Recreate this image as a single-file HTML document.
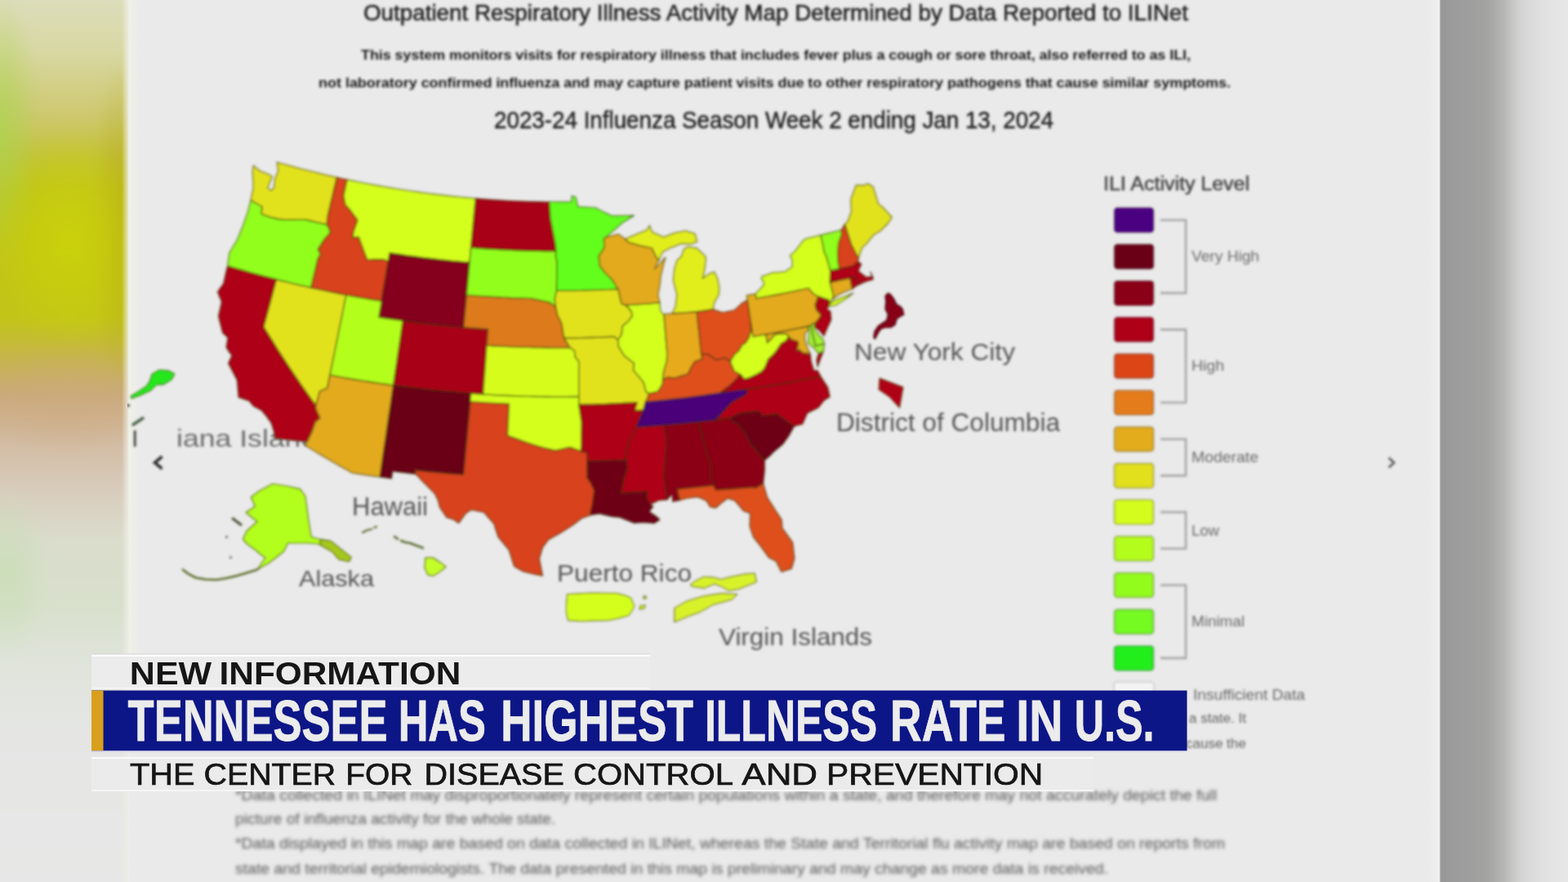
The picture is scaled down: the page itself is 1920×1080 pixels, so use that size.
<!DOCTYPE html>
<html>
<head>
<meta charset="utf-8">
<title>Tennessee has highest illness rate in U.S.</title>
<style>
html,body{margin:0;padding:0;}
body{width:1920px;height:1080px;overflow:hidden;position:relative;background:#e9e9e9;font-family:"Liberation Sans",sans-serif;}
#leftwrap{position:absolute;left:0;top:0;width:157px;height:1080px;overflow:hidden;background:#e6e6e6;}
#left{position:absolute;left:-30px;top:-30px;width:215px;height:1140px;
 background:
  radial-gradient(ellipse 95px 135px at 115px 325px, rgba(202,210,10,0.95), rgba(202,210,10,0) 100%),
  radial-gradient(ellipse 40px 200px at 180px 300px, rgba(180,165,20,0.55), rgba(180,165,20,0) 100%),
  radial-gradient(ellipse 50px 170px at 30px 190px, rgba(172,212,80,0.8), rgba(172,212,80,0) 100%),
  radial-gradient(ellipse 50px 110px at 40px 730px, rgba(200,222,180,0.8), rgba(200,222,180,0) 100%),
  radial-gradient(ellipse 110px 70px at 110px 520px, rgba(205,170,125,0.5), rgba(205,170,125,0) 100%),
  linear-gradient(to bottom, #dedfc6 0px, #d8d8a4 90px, #cec870 170px, #c4c23a 220px, #c0c21c 260px, #c2c414 330px, #c2c418 420px, #c6b44c 470px, #caa97c 515px, #d2bba2 570px, #d8ccbc 630px, #dadccc 690px, #d8e0cc 770px, #e0e4dc 850px, #e5e6e4 930px, #e7e7e7 1140px);
 filter:blur(5px);}
#right{position:absolute;left:1763px;top:-6px;width:167px;height:1092px;filter:blur(1.2px);
 background:linear-gradient(to right,#959595 0px,#9a9a9a 8px,#9e9d9d 30px,#a3a3a2 57px,#b4b4b2 77px,#c7c7c5 89px,#d3d3d3 99px,#dcdcdc 114px,#e3e3e3 134px,#e8e8e8 157px);}
#page{position:absolute;left:158px;top:0;width:1607px;height:1080px;background:#eaeaea;}
svg text{font-family:"Liberation Sans",sans-serif;}
</style>
</head>
<body>
<div id="leftwrap"><div id="left"></div></div>
<div id="page"></div>
<div style="position:absolute;left:149px;top:0;width:9px;height:1080px;background:linear-gradient(to right,rgba(234,234,234,0),rgba(238,238,230,0.95))"></div>
<div style="position:absolute;left:158px;top:0;width:12px;height:800px;background:linear-gradient(to right,rgba(242,242,232,0.9),rgba(234,234,234,0))"></div>
<div id="right"></div>
<div style="position:absolute;left:1748px;top:0;width:15px;height:1080px;background:linear-gradient(to right,rgba(240,240,240,0),rgba(241,240,241,0.9))"></div>
<svg id="main" width="1920" height="1080" viewBox="0 0 1920 1080" style="position:absolute;left:0;top:0">
<defs>
<filter id="b1" x="-5%" y="-5%" width="110%" height="110%"><feGaussianBlur stdDeviation="1.5"/></filter>
<filter id="b2" x="-5%" y="-50%" width="110%" height="200%"><feGaussianBlur stdDeviation="1.8"/></filter>
<clipPath id="pageclip"><rect x="156" y="0" width="1607" height="1080"/></clipPath>
</defs>
<g clip-path="url(#pageclip)">
<g filter="url(#b1)">
<text x="445" y="24.5" font-size="27" fill="#222" stroke="#222" stroke-width="0.6" textLength="1010" lengthAdjust="spacingAndGlyphs">Outpatient Respiratory Illness Activity Map Determined by Data Reported to ILINet</text>
<text x="442" y="72.5" font-size="16" font-weight="bold" fill="#141414" textLength="1016" lengthAdjust="spacingAndGlyphs">This system monitors visits for respiratory illness that includes fever plus a cough or sore throat, also referred to as ILI,</text>
<text x="390" y="106.5" font-size="16" font-weight="bold" fill="#141414" textLength="1117" lengthAdjust="spacingAndGlyphs">not laboratory confirmed influenza and may capture patient visits due to other respiratory pathogens that cause similar symptoms.</text>
<text x="605" y="156.5" font-size="29" fill="#1e1e1e" stroke="#1e1e1e" stroke-width="0.5" textLength="685" lengthAdjust="spacingAndGlyphs">2023-24 Influenza Season Week 2 ending Jan 13, 2024</text>
<!-- labels behind map -->
<text x="216" y="547" font-size="30" fill="#6a6a6a" textLength="190" lengthAdjust="spacingAndGlyphs">iana Islands</text>
<text x="161" y="547" font-size="30" fill="#404040">I</text>
<text x="431" y="631" font-size="31" fill="#555" textLength="93" lengthAdjust="spacingAndGlyphs">Hawaii</text>
<text x="366" y="718" font-size="28" fill="#555" textLength="92" lengthAdjust="spacingAndGlyphs">Alaska</text>
<text x="682" y="712" font-size="30" fill="#555" textLength="165" lengthAdjust="spacingAndGlyphs">Puerto Rico</text>
<text x="880" y="790" font-size="29" fill="#555" textLength="188" lengthAdjust="spacingAndGlyphs">Virgin Islands</text>
<text x="1046" y="441" font-size="30" fill="#555" textLength="197" lengthAdjust="spacingAndGlyphs">New York City</text>
<text x="1024" y="528" font-size="31" fill="#555" textLength="274" lengthAdjust="spacingAndGlyphs">District of Columbia</text>
<path d="M198.5,559 L189.5,566.5 L198.5,574" fill="none" stroke="#2e2e2e" stroke-width="3.6" stroke-linejoin="miter"/>
<path d="M1700.5,560.5 L1707,566.5 L1700.5,572.5" fill="none" stroke="#5a5a5a" stroke-width="2.6"/>
<!-- map -->
<g stroke="#2a2a00" stroke-opacity="0.6" stroke-width="1.6" stroke-linejoin="round">
<path d="M339.2,198.7L345.2,200.4L351.3,202.1L357.4,203.7L363.4,205.4L369.5,207.0L375.6,208.5L381.7,210.0L387.9,211.6L394.0,213.0L400.1,214.5L406.2,215.9L412.4,217.3L410.5,225.5L408.5,233.7L406.6,241.9L404.6,250.2L402.7,258.5L400.8,266.7L400.5,275.2L394.9,273.9L389.3,272.7L383.8,271.4L378.2,270.1L372.7,268.7L368.0,269.0L362.3,269.2L356.5,269.3L350.7,269.3L345.8,268.9L340.8,268.4L335.4,267.1L330.0,265.8L325.0,263.9L320.1,262.0L320.8,252.9L315.8,250.4L311.5,247.9L307.2,245.4L308.7,237.0L310.2,231.2L310.0,222.9L309.7,216.6L309.3,210.3L310.3,202.8L314.4,206.2L318.4,209.6L324.1,211.8L329.7,213.9L333.2,216.4L330.4,223.3L327.6,230.2L331.6,233.4L335.4,230.3L336.1,224.4L336.8,218.4L340.8,209.4L339.2,198.7Z" fill="#e2e21e"/>
<path d="M307.2,245.4L311.5,247.9L315.8,250.4L320.8,252.9L320.1,262.0L325.0,263.9L330.0,265.8L335.4,267.1L340.8,268.4L345.8,268.9L350.7,269.3L356.5,269.3L362.3,269.2L368.0,269.0L372.7,268.7L378.2,270.1L383.8,271.4L389.3,272.7L394.9,273.9L400.5,275.2L404.8,284.3L397.4,292.8L393.4,299.0L389.4,305.3L392.4,311.0L389.0,317.4L387.0,326.2L384.9,334.9L382.8,343.6L380.8,352.4L373.9,350.9L367.1,349.3L360.2,347.7L353.4,346.0L346.5,344.3L339.7,342.6L332.9,340.9L326.1,339.1L319.3,337.3L312.5,335.4L305.8,333.6L299.0,331.6L292.2,329.7L285.5,327.7L278.8,325.7L279.8,317.7L280.9,309.6L285.7,301.7L290.5,293.8L293.9,285.4L297.3,277.1L300.3,268.6L303.3,260.2L305.2,252.8L307.2,245.4Z" fill="#92fe1e"/>
<path d="M412.4,217.3L418.8,218.7L425.2,220.0L423.7,226.5L422.3,233.1L420.8,239.6L421.9,245.1L422.9,250.7L427.7,255.7L432.8,262.6L438.0,269.4L435.8,275.7L433.6,282.1L431.6,290.6L435.5,290.4L439.4,290.2L441.7,296.6L444.1,303.0L446.9,310.5L449.8,318.0L456.4,317.5L462.9,317.6L469.3,317.6L475.4,320.0L473.8,329.8L472.1,339.5L470.5,349.2L468.8,359.0L467.2,368.8L459.9,367.6L452.7,366.4L445.5,365.2L438.3,363.9L431.1,362.6L423.8,361.3L416.7,359.9L409.5,358.5L402.3,357.0L395.1,355.5L387.9,354.0L380.8,352.4L382.8,343.6L384.9,334.9L387.0,326.2L389.0,317.4L392.4,311.0L389.4,305.3L393.4,299.0L397.4,292.8L404.8,284.3L400.5,275.2L400.8,266.7L402.7,258.5L404.6,250.2L406.6,241.9L408.5,233.7L410.5,225.5Z" fill="#d8421a"/>
<path d="M425.2,220.0L431.7,221.4L438.2,222.7L444.6,224.0L451.1,225.2L457.7,226.4L464.2,227.6L470.7,228.8L477.2,229.9L483.7,231.0L490.3,232.0L496.8,233.0L503.4,234.0L509.9,234.9L516.5,235.9L523.1,236.7L529.6,237.6L536.2,238.4L542.8,239.1L549.4,239.9L556.0,240.6L562.6,241.2L569.1,241.9L575.7,242.5L582.3,243.0L581.4,252.8L580.5,262.6L579.6,272.4L578.7,282.2L577.8,292.0L576.8,301.8L575.9,311.7L575.0,321.6L568.0,321.0L561.0,320.3L554.0,319.7L546.9,318.9L539.9,318.2L532.9,317.4L526.0,316.6L519.0,315.7L512.0,314.8L505.0,313.9L498.0,313.0L491.1,311.9L484.1,310.9L477.1,309.8L476.3,314.9L475.4,320.0L469.3,317.6L462.9,317.6L456.4,317.5L449.8,318.0L446.9,310.5L444.1,303.0L441.7,296.6L439.4,290.2L435.5,290.4L431.6,290.6L433.6,282.1L435.8,275.7L438.0,269.4L432.8,262.6L427.7,255.7L422.9,250.7L421.9,245.1L420.8,239.6L422.3,233.1L423.7,226.5Z" fill="#d4fe1e"/>
<path d="M477.1,309.8L484.1,310.9L491.1,311.9L498.0,313.0L505.0,313.9L512.0,314.8L519.0,315.7L526.0,316.6L532.9,317.4L539.9,318.2L546.9,318.9L554.0,319.7L561.0,320.3L568.0,321.0L575.0,321.6L574.1,331.4L573.2,341.3L572.2,351.2L571.3,361.2L570.4,371.1L569.4,381.0L568.5,390.9L567.6,400.9L560.1,400.3L552.7,399.6L545.3,398.9L537.8,398.1L530.4,397.3L523.0,396.5L515.6,395.6L508.2,394.7L500.8,393.8L493.4,392.8L486.0,391.8L478.6,390.7L471.2,389.6L463.8,388.5L465.5,378.6L467.2,368.8L468.8,358.9L470.5,349.1L472.2,339.3L473.8,329.4L475.5,319.6Z" fill="#84001a"/>
<path d="M423.7,361.2L430.9,362.6L438.2,363.9L445.4,365.2L452.7,366.4L459.9,367.6L467.2,368.8L465.5,378.6L463.8,388.5L471.2,389.6L478.6,390.7L486.0,391.8L493.4,392.8L491.9,402.7L490.5,412.6L489.0,422.5L487.5,432.4L486.1,442.3L484.6,452.2L483.2,462.1L481.7,472.0L473.9,470.9L466.1,469.8L458.3,468.6L450.5,467.4L442.7,466.2L434.9,464.9L427.2,463.6L419.4,462.2L411.7,460.8L403.9,459.3L405.9,449.5L407.9,439.7L409.8,429.9L411.8,420.1L413.8,410.3L415.8,400.4L417.8,390.6L419.7,380.8L421.7,371.0Z" fill="#b4fe1e"/>
<path d="M493.4,392.8L500.8,393.8L508.2,394.7L515.6,395.6L523.0,396.5L530.4,397.3L537.8,398.1L545.3,398.9L552.7,399.6L560.1,400.3L567.6,400.9L575.0,401.5L582.5,402.0L589.9,402.6L597.4,403.0L596.7,413.0L595.9,423.0L595.2,432.9L594.5,442.9L593.8,452.9L593.0,462.9L592.3,472.8L591.6,482.8L583.7,482.3L575.9,481.8L568.0,481.2L560.1,480.5L552.3,479.9L544.4,479.2L536.6,478.4L528.7,477.6L520.9,476.8L513.0,475.9L505.2,475.0L497.4,474.0L489.5,473.0L481.7,472.0L483.2,462.1L484.6,452.2L486.1,442.3L487.5,432.4L489.0,422.5L490.5,412.6L491.9,402.7Z" fill="#a80016"/>
<path d="M338.3,342.3L345.4,344.1L352.5,345.8L359.6,347.5L366.6,349.2L373.7,350.8L380.9,352.4L388.0,354.0L395.1,355.5L402.2,357.0L409.4,358.4L416.5,359.9L423.7,361.2L421.8,370.7L419.9,380.2L418.0,389.7L416.0,399.2L414.1,408.7L412.2,418.2L410.3,427.7L408.4,437.2L406.4,446.7L404.5,456.2L402.6,465.7L400.7,475.2L396.0,477.3L391.4,479.4L389.1,488.1L386.8,496.8L380.5,488.2L374.4,479.5L368.3,470.8L362.3,462.0L356.4,453.3L350.6,444.5L344.9,435.7L339.2,426.9L333.7,418.0L328.2,409.2L322.8,400.3L325.4,390.6L328.0,380.9L330.6,371.3L333.2,361.6L335.7,351.9Z" fill="#e2e21e"/>
<path d="M278.8,325.7L285.3,327.7L291.9,329.6L298.5,331.5L305.1,333.4L311.8,335.2L318.4,337.0L325.0,338.8L331.7,340.6L338.3,342.3L335.7,351.9L333.2,361.6L330.6,371.3L328.0,380.9L325.4,390.6L322.8,400.3L328.2,409.2L333.7,418.0L339.2,426.9L344.9,435.7L350.6,444.5L356.4,453.3L362.3,462.0L368.3,470.8L374.4,479.5L380.5,488.2L386.8,496.8L386.9,500.9L391.9,512.1L385.9,517.0L384.0,522.7L382.0,528.5L379.0,534.8L376.0,541.1L368.0,540.3L360.0,539.4L352.0,538.5L344.0,537.6L336.0,536.6L335.6,528.9L332.2,518.0L325.9,509.3L320.7,502.9L315.5,500.1L310.3,497.3L305.2,490.9L298.6,488.7L292.1,486.5L291.3,477.0L290.8,471.2L290.3,465.4L284.9,455.1L279.6,444.8L283.9,435.6L280.4,430.5L277.0,425.4L278.0,419.4L278.9,413.4L272.6,407.4L270.0,397.3L267.5,387.1L269.5,378.3L271.4,369.5L268.9,363.5L266.5,357.5L270.1,352.3L273.7,347.2L275.4,339.3L277.1,331.4Z" fill="#ae0016"/>
<path d="M403.9,459.3L411.7,460.8L419.4,462.2L427.2,463.6L434.9,464.9L442.7,466.2L450.5,467.4L458.3,468.6L466.1,469.8L473.9,470.9L481.7,472.0L480.3,481.3L479.0,490.7L477.6,500.0L476.2,509.4L474.8,518.7L473.4,528.1L472.1,537.4L470.7,546.7L469.3,556.1L468.0,565.4L466.6,574.7L465.2,584.0L458.4,583.1L451.6,582.1L444.8,581.1L438.1,580.1L431.3,579.0L423.9,574.9L416.6,570.8L409.3,566.6L402.1,562.4L394.9,558.2L387.7,553.9L380.5,549.6L373.4,545.3L376.0,541.1L379.0,534.8L382.0,528.5L384.0,522.7L385.9,517.0L391.9,512.1L386.9,500.9L386.8,496.8L389.1,488.1L391.4,479.4L396.0,477.3L400.7,475.2L402.3,467.3Z" fill="#e2aa1e"/>
<path d="M481.7,472.0L489.0,472.9L496.3,473.9L503.6,474.8L510.8,475.6L518.1,476.5L525.4,477.3L532.7,478.0L540.1,478.7L547.4,479.4L554.7,480.1L562.0,480.7L569.3,481.3L576.6,481.8L575.8,491.8L574.9,501.7L574.0,511.7L573.0,521.6L572.1,531.6L571.2,541.5L570.2,551.5L569.3,561.4L568.4,571.3L567.4,581.2L560.0,580.7L552.5,580.1L545.0,579.5L537.6,578.8L530.1,578.1L522.7,577.4L515.2,576.6L507.8,575.8L509.2,580.4L502.1,579.6L495.0,578.8L487.9,577.9L480.7,577.0L479.5,585.9L472.4,585.0L465.2,584.0L466.6,574.7L468.0,565.4L469.3,556.1L470.7,546.7L472.1,537.4L473.4,528.1L474.8,518.7L476.2,509.4L477.6,500.0L479.0,490.7L480.3,481.3Z" fill="#6a0016"/>
<path d="M575.8,491.8L583.8,492.3L591.7,492.8L599.6,493.3L607.5,493.7L615.5,494.1L623.4,494.5L622.9,504.1L622.4,513.8L622.0,523.5L621.5,533.2L627.9,535.5L634.3,537.8L640.0,540.0L645.6,542.1L652.7,544.3L659.7,546.4L666.8,548.5L673.4,550.1L680.0,551.6L686.0,550.3L692.1,548.9L698.1,547.6L704.9,550.1L711.6,552.6L718.9,554.2L719.0,559.5L719.1,564.8L719.1,571.6L719.2,578.4L719.3,585.3L723.5,590.9L727.9,600.8L726.7,608.7L725.6,616.7L723.3,626.7L723.4,630.6L717.7,632.7L712.0,634.8L706.8,638.9L701.5,642.9L693.7,647.9L685.8,652.9L678.7,656.8L671.6,660.7L664.3,670.5L662.4,677.4L660.4,684.3L661.8,691.2L663.1,698.1L664.5,704.9L658.6,703.9L652.8,702.8L646.5,701.2L640.2,699.6L634.9,696.5L629.6,693.4L626.4,683.5L623.3,673.5L616.6,665.4L609.9,657.2L607.3,649.2L604.7,641.1L598.5,634.2L592.5,627.2L584.8,625.7L577.1,624.1L569.7,629.2L565.8,634.9L561.8,640.5L555.2,636.1L546.7,633.4L542.5,627.1L538.3,620.8L536.5,612.6L532.2,604.3L524.5,596.5L516.8,588.8L509.2,580.4L507.8,575.8L515.2,576.6L522.7,577.4L530.1,578.1L537.6,578.8L545.0,579.5L552.5,580.1L560.0,580.7L567.4,581.2L568.4,571.3L569.3,561.4L570.2,551.5L571.2,541.5L572.1,531.6L573.0,521.6L574.0,511.7L574.9,501.7Z" fill="#d8421a"/>
<path d="M576.6,481.8L584.4,482.4L592.2,482.9L599.9,483.3L607.7,483.7L615.5,484.1L623.3,484.4L631.0,484.7L638.8,485.0L646.6,485.2L654.4,485.4L662.2,485.5L669.9,485.6L677.7,485.7L685.5,485.7L693.3,485.7L701.1,485.6L708.9,485.5L708.9,495.5L710.0,502.9L711.1,510.3L712.2,517.6L712.0,526.4L711.9,535.1L711.8,543.8L711.6,552.6L704.9,550.1L698.1,547.6L692.1,548.9L686.0,550.3L680.0,551.6L673.4,550.1L666.8,548.5L659.7,546.4L652.7,544.3L645.6,542.1L640.0,540.0L634.3,537.8L627.9,535.5L621.5,533.2L622.0,523.5L622.4,513.8L622.9,504.1L623.4,494.5L615.5,494.1L607.5,493.7L599.6,493.3L591.7,492.8L583.8,492.3L575.8,491.8Z" fill="#d4fe1e"/>
<path d="M595.9,423.0L603.2,423.4L610.5,423.8L617.8,424.2L625.1,424.5L632.4,424.8L639.6,425.0L646.9,425.2L654.2,425.4L661.5,425.5L668.8,425.6L676.1,425.7L683.4,425.7L690.7,425.7L698.0,425.7L703.5,429.6L704.6,437.6L708.9,442.5L708.9,451.1L708.9,459.7L708.9,468.3L708.9,476.9L708.9,485.5L701.1,485.6L693.2,485.7L685.4,485.7L677.6,485.7L669.8,485.6L661.9,485.5L654.1,485.4L646.3,485.2L638.5,485.0L630.7,484.7L622.8,484.4L615.0,484.1L607.2,483.7L599.4,483.3L591.6,482.8L592.3,472.8L593.0,462.9L593.8,452.9L594.5,442.9L595.2,432.9Z" fill="#d6fc1e"/>
<path d="M571.3,361.2L578.0,361.7L584.7,362.2L591.4,362.7L598.1,363.1L604.8,363.5L611.5,363.9L618.2,364.2L624.9,364.6L631.6,364.8L638.3,365.1L645.0,365.3L651.7,365.5L658.9,367.2L666.2,368.8L673.4,370.4L680.6,375.9L682.7,385.8L687.8,395.8L688.9,402.8L689.9,409.8L691.1,414.1L694.5,419.9L698.0,425.7L690.7,425.7L683.4,425.7L676.1,425.7L668.8,425.6L661.5,425.5L654.2,425.4L646.9,425.2L639.6,425.0L632.4,424.8L625.1,424.5L617.8,424.2L610.5,423.8L603.2,423.4L595.9,423.0L596.7,413.0L597.4,403.0L589.9,402.6L582.5,402.0L575.0,401.5L567.6,400.9L568.5,390.9L569.4,381.0L570.4,371.1Z" fill="#dc7a1c"/>
<path d="M576.7,303.0L583.7,303.6L590.6,304.1L597.5,304.6L604.4,305.0L611.3,305.4L618.3,305.8L625.2,306.1L632.1,306.4L639.1,306.7L646.0,306.9L652.9,307.1L659.9,307.3L666.8,307.4L673.8,307.5L680.7,307.5L680.6,314.3L682.1,320.2L682.0,329.1L681.8,338.1L681.7,347.0L681.6,355.9L679.3,365.9L680.6,375.9L673.4,370.4L666.2,368.8L658.9,367.2L651.7,365.5L645.0,365.3L638.3,365.1L631.6,364.8L624.9,364.6L618.2,364.2L611.5,363.9L604.8,363.5L598.1,363.1L591.4,362.7L584.7,362.2L578.0,361.7L571.3,361.2L572.2,351.4L573.1,341.7L574.0,332.0L574.9,322.4L575.8,312.7Z" fill="#92fe1e"/>
<path d="M582.3,243.0L588.8,243.6L595.2,244.0L601.7,244.5L608.1,244.9L614.6,245.3L621.0,245.7L627.5,246.0L633.9,246.3L640.4,246.5L646.8,246.7L653.3,246.9L659.7,247.1L666.2,247.2L672.7,247.3L673.3,257.1L674.0,266.9L675.8,276.7L677.7,286.6L679.0,293.5L680.3,300.4L680.7,307.5L673.8,307.5L666.8,307.4L659.9,307.3L652.9,307.1L646.0,306.9L639.1,306.7L632.1,306.4L625.2,306.1L618.3,305.8L611.3,305.4L604.4,305.0L597.5,304.6L590.6,304.1L583.7,303.6L576.7,303.0L577.5,294.4L578.3,285.8L579.1,277.2L580.0,268.7L580.8,260.1L581.6,251.6Z" fill="#a80016"/>
<path d="M672.7,247.3L678.2,247.3L683.7,247.4L689.2,247.4L694.7,247.4L700.2,247.3L700.2,239.9L704.9,241.4L706.2,247.2L707.6,253.1L712.9,253.5L718.3,253.8L723.6,254.2L729.0,254.5L735.7,257.9L742.5,261.2L749.4,264.5L756.1,264.4L762.9,264.3L769.6,264.1L776.3,263.9L771.6,266.8L766.8,269.8L761.9,272.7L755.4,278.6L748.8,284.5L742.2,290.4L739.5,292.3L739.7,297.8L740.0,303.3L736.6,308.4L733.2,313.5L733.7,319.4L734.2,325.3L740.8,334.0L745.2,338.3L749.6,342.6L753.3,348.4L757.0,354.1L750.2,354.5L743.3,354.8L736.5,355.0L729.6,355.3L722.8,355.5L715.9,355.6L709.0,355.8L702.2,355.9L695.3,355.9L688.5,356.0L681.6,355.9L681.7,347.0L681.8,338.1L682.0,329.1L682.1,320.2L680.6,314.3L680.7,307.5L680.3,300.4L679.0,293.5L677.7,286.6L675.8,276.7L674.0,266.9L673.3,257.1Z" fill="#64fe1e"/>
<path d="M681.6,355.9L688.5,356.0L695.3,355.9L702.2,355.9L709.0,355.8L715.9,355.6L722.8,355.5L729.6,355.3L736.5,355.0L743.3,354.8L750.2,354.5L757.0,354.1L759.2,364.0L761.0,371.9L766.2,373.6L773.2,381.1L774.3,387.1L769.4,393.3L762.2,399.7L761.2,409.8L756.7,416.4L751.8,412.2L745.1,412.6L738.3,412.9L731.6,413.2L724.8,413.4L718.1,413.6L711.4,413.8L704.6,413.9L697.9,414.1L691.1,414.1L689.9,409.8L688.9,402.8L687.8,395.8L682.7,385.8L680.6,375.9L679.3,365.9Z" fill="#e2e21e"/>
<path d="M691.1,414.1L697.9,414.1L704.6,413.9L711.4,413.8L718.1,413.6L724.8,413.4L731.6,413.2L738.3,412.9L745.1,412.6L751.8,412.2L756.7,416.4L757.3,424.0L760.9,429.8L764.6,435.6L770.6,440.3L776.6,444.9L775.5,453.0L781.8,460.6L788.1,468.2L789.6,474.1L791.1,480.0L794.7,481.7L791.8,489.9L790.3,492.1L787.7,502.2L782.4,502.6L777.0,502.9L780.0,492.7L772.1,493.2L764.2,493.6L756.3,494.0L748.4,494.4L740.5,494.7L732.6,494.9L724.7,495.2L716.8,495.4L708.9,495.5L708.9,485.5L708.9,476.9L708.9,468.3L708.9,459.7L708.9,451.1L708.9,442.5L704.6,437.6L703.5,429.6L698.0,425.7L694.5,419.9Z" fill="#e2e21e"/>
<path d="M708.9,495.5L716.8,495.4L724.7,495.2L732.6,494.9L740.5,494.7L748.4,494.4L756.3,494.0L764.2,493.6L772.1,493.2L780.0,492.7L777.0,502.9L782.4,502.6L787.7,502.2L785.3,508.4L782.8,514.6L779.2,522.8L774.8,533.0L771.8,538.7L768.8,544.4L767.5,553.4L766.8,563.4L758.9,563.7L750.9,564.0L742.9,564.3L735.0,564.5L727.0,564.6L719.1,564.8L719.0,559.5L718.9,554.2L711.6,552.6L711.8,543.8L711.9,535.1L712.0,526.4L712.2,517.6L711.1,510.3L710.0,502.9Z" fill="#ae0016"/>
<path d="M719.1,564.8L727.0,564.6L735.0,564.5L742.9,564.3L750.9,564.0L758.9,563.7L766.8,563.4L768.4,573.3L766.2,579.4L763.9,585.5L762.5,592.5L761.0,599.5L760.5,603.5L768.7,603.1L776.8,602.7L784.9,602.2L793.1,601.7L791.7,609.7L796.3,617.8L799.9,620.1L795.0,626.4L804.1,632.7L807.9,636.4L801.2,640.8L795.0,640.3L788.8,639.7L782.7,640.0L776.6,640.4L767.7,636.9L758.9,633.4L750.2,632.7L742.3,630.9L734.4,628.9L728.9,629.8L723.4,630.6L723.3,626.7L725.6,616.7L726.7,608.7L727.9,600.8L723.5,590.9L719.3,585.3L719.2,578.4L719.1,571.6Z" fill="#6e0016"/>
<path d="M779.2,522.8L786.0,522.4L792.8,521.9L799.6,521.4L806.4,520.9L813.2,520.3L814.7,530.2L816.3,540.1L815.7,548.5L815.1,557.0L814.5,565.4L813.9,573.9L813.2,582.3L814.4,592.2L815.5,602.0L816.6,611.9L811.4,612.3L806.3,612.7L801.3,615.2L796.3,617.8L791.7,609.7L793.1,601.7L784.9,602.2L776.8,602.7L768.7,603.1L760.5,603.5L761.0,599.5L762.5,592.5L763.9,585.5L766.2,579.4L768.4,573.3L766.8,563.4L767.5,553.4L768.8,544.4L771.8,538.7L774.8,533.0Z" fill="#ae0016"/>
<path d="M813.2,520.3L820.2,519.7L827.2,519.1L834.2,518.5L841.2,517.8L848.2,517.0L855.2,516.3L857.4,524.7L859.7,533.0L861.9,541.4L864.2,549.8L866.5,558.1L868.6,563.4L870.7,568.6L870.7,576.6L870.7,584.6L873.5,594.3L866.2,595.2L858.8,596.0L851.4,596.7L844.1,597.5L836.7,598.2L829.3,598.9L830.8,605.7L832.2,612.5L823.7,614.3L823.0,605.4L816.6,611.9L815.5,602.0L814.4,592.2L813.2,582.3L813.9,573.9L814.5,565.4L815.1,557.0L815.7,548.5L816.3,540.1L814.7,530.2Z" fill="#8c0016"/>
<path d="M855.2,516.3L863.2,515.4L871.3,514.4L879.4,513.4L887.4,512.4L895.5,511.3L896.0,515.3L904.8,520.1L908.9,525.5L913.0,531.0L916.4,537.5L919.8,544.1L927.8,552.9L932.0,558.3L936.2,563.7L936.3,569.7L936.3,575.7L935.4,583.9L934.5,592.1L929.7,594.8L924.9,597.5L922.1,596.5L914.5,597.2L906.9,597.8L899.3,598.4L891.7,599.0L884.1,599.5L876.5,599.9L873.5,594.3L870.7,584.6L870.7,576.6L870.7,568.6L868.6,563.4L866.5,558.1L864.2,549.8L861.9,541.4L859.7,533.0L857.4,524.7Z" fill="#8c0016"/>
<path d="M829.3,598.9L836.7,598.2L844.1,597.5L851.4,596.7L858.8,596.0L866.2,595.2L873.5,594.3L876.5,599.9L884.1,599.5L891.7,599.0L899.3,598.4L906.9,597.8L914.5,597.2L922.1,596.5L924.9,597.5L929.7,594.8L934.5,592.1L937.1,600.7L939.6,609.3L944.3,616.6L948.9,623.9L953.0,630.2L957.1,636.5L957.8,646.4L964.1,655.3L970.6,664.2L971.7,674.0L972.8,683.7L971.1,689.9L969.3,696.2L963.1,698.2L956.9,700.2L953.6,693.8L950.4,687.3L941.5,682.7L936.9,676.5L932.4,670.2L927.5,664.0L922.6,657.7L920.3,651.1L918.1,644.4L918.4,636.4L918.6,628.4L910.3,625.6L905.1,619.3L899.9,613.0L890.9,610.2L884.5,615.0L876.5,621.9L869.4,620.7L865.1,613.2L859.7,610.8L854.3,608.4L847.4,609.3L840.6,610.2L832.2,612.5L830.8,605.7Z" fill="#de501a"/>
<path d="M895.5,511.3L900.0,508.7L907.8,505.6L914.5,504.9L921.2,504.2L927.9,503.5L930.5,504.1L932.9,509.4L939.0,508.5L945.1,507.6L951.2,506.7L958.2,511.8L965.3,516.9L972.4,521.9L968.9,528.3L965.4,534.6L958.5,543.9L952.6,548.9L946.6,553.9L942.3,558.7L936.2,563.7L932.0,558.3L927.8,552.9L919.8,544.1L916.4,537.5L913.0,531.0L908.9,525.5L904.8,520.1L896.0,515.3Z" fill="#6e0016"/>
<path d="M875.8,513.9L880.5,509.3L887.6,501.1L891.9,496.6L896.2,492.1L903.7,488.0L909.0,485.2L914.2,482.4L913.7,476.6L921.3,475.5L929.0,474.4L936.6,473.2L944.2,472.0L951.8,470.7L959.3,469.4L966.9,468.1L974.5,466.7L982.1,465.3L989.7,463.8L997.2,462.3L1004.8,460.8L1009.2,467.5L1013.6,474.2L1014.9,480.0L1016.1,485.9L1008.8,490.5L1002.3,499.0L995.5,502.5L988.6,505.9L985.7,512.5L982.8,519.2L977.6,520.6L972.4,521.9L965.3,516.9L958.2,511.8L951.2,506.7L945.1,507.6L939.0,508.5L932.9,509.4L930.5,504.1L927.9,503.5L921.2,504.2L914.5,504.9L907.8,505.6L900.0,508.7L895.5,511.3L888.9,512.2L882.4,513.1Z" fill="#ae0016"/>
<path d="M790.3,492.1L798.0,491.3L805.7,490.6L813.3,489.8L821.0,488.9L828.7,488.1L836.4,487.2L844.0,486.2L851.7,485.2L859.3,484.2L866.9,483.1L874.6,482.0L882.2,480.9L890.1,479.9L898.0,478.8L905.8,477.8L913.7,476.6L914.2,482.4L909.0,485.2L903.7,488.0L896.2,492.1L891.9,496.6L887.6,501.1L880.5,509.3L875.8,513.9L868.9,514.7L862.1,515.5L855.2,516.3L848.2,517.0L841.2,517.8L834.2,518.5L827.2,519.1L820.2,519.7L813.2,520.3L806.4,520.9L799.6,521.4L792.8,521.9L786.0,522.4L779.2,522.8L782.8,514.6L785.3,508.4L787.7,502.2Z" fill="#4a0078"/>
<path d="M794.7,481.7L800.1,480.6L805.4,479.5L811.0,470.4L811.6,464.4L818.2,461.8L826.1,463.1L833.7,460.3L838.3,458.9L842.8,457.4L845.3,451.1L850.7,442.5L855.2,441.1L859.7,439.8L858.7,433.5L862.7,433.5L866.8,433.5L871.8,437.1L876.9,440.7L882.2,439.3L887.5,437.9L894.3,442.5L896.7,448.5L899.1,454.4L906.5,458.5L902.0,464.0L895.0,471.1L888.6,476.0L882.2,480.9L874.6,482.0L866.9,483.1L859.3,484.2L851.7,485.2L844.0,486.2L836.4,487.2L828.7,488.1L821.0,488.9L813.3,489.8L805.7,490.6L798.0,491.3L790.3,492.1L791.8,489.9Z" fill="#de501a"/>
<path d="M766.2,373.6L773.1,373.2L780.1,372.7L787.0,372.2L793.9,371.7L800.9,371.2L807.8,370.6L808.6,380.5L813.2,386.1L813.0,386.1L813.8,395.4L814.6,404.8L815.3,414.1L816.1,423.5L816.9,432.8L816.5,441.9L814.7,448.1L812.9,454.2L811.6,464.4L811.0,470.4L805.4,479.5L800.1,480.6L794.7,481.7L791.1,480.0L789.6,474.1L788.1,468.2L781.8,460.6L775.5,453.0L776.6,444.9L770.6,440.3L764.6,435.6L760.9,429.8L757.3,424.0L756.7,416.4L761.2,409.8L762.2,399.7L769.4,393.3L774.3,387.1L773.2,381.1Z" fill="#d4fe1e"/>
<path d="M766.2,373.6L761.0,371.9L759.2,364.0L757.0,354.1L753.3,348.4L749.6,342.6L745.2,338.3L740.8,334.0L734.2,325.3L733.7,319.4L733.2,313.5L736.6,308.4L740.0,303.3L739.7,297.8L739.5,292.3L742.2,290.4L747.2,289.2L752.2,288.0L757.1,286.7L761.4,289.7L765.7,292.8L770.1,296.8L777.1,298.8L784.2,300.8L791.2,302.3L798.3,303.7L800.8,308.9L803.3,314.2L806.5,318.8L801.7,329.2L808.3,322.7L814.7,315.1L812.9,322.2L811.2,329.4L809.4,336.5L808.5,343.6L807.7,350.6L805.6,360.8L807.8,370.6L800.9,371.2L793.9,371.7L787.0,372.2L780.1,372.7L773.1,373.2Z" fill="#e2aa1e"/>
<path d="M823.4,383.9L829.4,383.6L835.4,383.2L841.3,382.8L847.3,382.4L853.3,381.9L859.9,380.9L866.4,379.9L873.0,378.8L874.3,371.2L880.3,360.4L880.7,352.3L879.5,346.4L878.4,340.5L874.5,333.1L870.7,334.6L866.9,336.1L860.3,341.0L861.7,334.8L863.1,328.6L863.7,321.5L864.2,314.5L858.6,309.2L853.0,303.9L848.0,303.0L843.0,302.2L837.6,304.8L834.4,314.1L829.2,318.6L825.9,328.9L825.1,336.0L824.4,343.1L826.6,351.8L828.9,360.6L828.1,367.7L827.3,374.7Z" fill="#e2ee1e"/>
<path d="M765.7,292.8L770.1,296.8L777.1,298.8L784.2,300.8L791.2,302.3L798.3,303.7L800.8,308.9L803.3,314.2L806.5,318.8L811.3,308.5L816.0,306.0L820.7,303.6L827.4,300.9L834.1,298.2L839.8,298.6L845.4,298.9L849.4,297.4L853.5,295.9L850.9,286.3L845.2,284.5L839.4,282.7L832.7,284.0L825.9,285.2L819.2,287.9L812.5,290.5L805.3,287.2L798.2,283.9L795.5,276.2L792.5,281.4L787.6,283.4L782.7,285.4L777.8,287.4L771.8,290.1Z" fill="#e2ee1e"/>
<path d="M812.9,384.9L818.2,384.4L823.4,383.9L829.4,383.6L835.4,383.2L841.3,382.8L847.3,382.4L853.3,381.9L854.2,390.5L855.1,399.1L856.0,407.7L856.9,416.3L857.8,424.9L858.7,433.5L859.7,439.8L855.2,441.1L850.7,442.5L845.3,451.1L842.8,457.4L838.3,458.9L833.7,460.3L826.1,463.1L818.2,461.8L811.6,464.4L812.9,454.2L814.7,448.1L816.5,441.9L816.9,432.8L816.1,423.2L815.3,413.7L814.5,404.1L813.7,394.5Z" fill="#e6aa1e"/>
<path d="M853.3,381.9L859.9,380.9L866.4,379.9L873.0,378.8L878.9,380.8L884.8,382.8L892.1,381.3L899.3,379.7L904.0,375.5L908.6,371.2L915.2,367.5L916.6,376.3L917.9,385.1L919.3,393.9L919.6,399.3L919.8,404.7L917.3,413.2L912.9,420.0L908.7,422.7L905.0,429.3L899.4,434.1L894.3,442.5L887.5,437.9L882.2,439.3L876.9,440.7L871.8,437.1L866.8,433.5L862.7,433.5L858.7,433.5L857.8,424.9L856.9,416.3L856.0,407.7L855.1,399.1L854.2,390.5Z" fill="#de501a"/>
<path d="M919.3,393.9L920.8,403.0L922.2,412.0L927.4,411.2L932.6,410.3L937.8,409.4L938.7,414.5L939.6,419.6L945.9,413.4L948.4,409.9L955.9,408.5L963.8,409.1L965.7,412.4L962.3,417.5L956.6,420.6L950.4,429.9L946.5,434.6L941.0,439.6L936.5,450.5L932.5,455.2L928.5,457.4L924.4,459.6L917.7,462.7L911.7,464.6L906.5,458.5L899.1,454.4L896.7,448.5L894.3,442.5L899.4,434.1L905.0,429.3L908.7,422.7L912.9,420.0L917.3,413.2L919.8,404.7L919.6,399.3Z" fill="#d4fe1e"/>
<path d="M882.2,480.9L890.1,479.9L898.0,478.8L905.8,477.8L913.7,476.6L921.3,475.5L929.0,474.4L936.6,473.2L944.2,472.0L951.8,470.7L959.3,469.4L966.9,468.1L974.5,466.7L982.1,465.3L989.7,463.8L997.2,462.3L1004.8,460.8L1001.2,453.8L996.3,453.4L994.7,447.6L993.1,441.9L992.3,433.9L987.3,432.9L982.3,431.8L979.3,428.4L975.5,429.1L977.7,420.6L976.4,417.8L969.8,416.0L965.7,412.4L962.3,417.5L956.6,420.6L950.4,429.9L946.5,434.6L941.0,439.6L936.5,450.5L932.5,455.2L928.5,457.4L924.4,459.6L917.7,462.7L911.7,464.6L906.5,458.5L902.0,464.0L895.0,471.1L888.6,476.0Z" fill="#ae0016"/>
<path d="M1002.4,432.7L1008.3,429.8L1004.6,439.4L1001.1,449.3L1000.0,440.4Z" fill="#ae0016"/>
<path d="M937.8,409.4L945.2,408.1L952.5,406.7L959.9,405.4L967.2,403.9L974.5,402.5L981.8,401.0L989.1,399.5L990.6,402.6L985.6,408.8L985.7,416.9L987.6,422.6L989.6,428.3L992.1,432.9L987.2,432.4L982.3,431.8L979.3,428.4L975.5,429.1L977.7,420.6L976.4,417.8L969.8,416.0L965.7,412.4L963.8,409.1L955.9,408.5L948.4,409.9L945.9,413.4L939.6,419.6L938.7,414.5Z" fill="#e2aa1e"/>
<path d="M993.0,398.6L994.8,406.9L996.6,415.1L998.4,423.4L1003.9,422.2L1009.4,421.0L1008.3,429.8L1002.4,432.7L997.2,426.7L989.5,420.2L990.5,409.8L990.6,402.6L989.1,399.5Z" fill="#a2f032"/>
<path d="M993.0,398.6L995.4,395.9L998.2,395.9L997.1,400.2L997.9,404.1L1003.3,411.1L1007.4,414.7L1009.4,421.0L1003.9,422.2L998.4,423.4L996.6,415.1L994.8,406.9Z" fill="#a2f032"/>
<path d="M914.3,361.8L919.8,360.9L925.3,360.0L926.2,365.3L933.3,364.0L940.4,362.8L947.5,361.4L954.6,360.1L961.7,358.7L968.8,357.3L975.9,355.8L983.0,354.3L990.0,352.8L996.0,359.6L1002.1,363.1L998.3,373.4L999.6,379.2L1005.7,386.0L1002.1,390.9L998.2,395.9L995.4,395.9L993.0,398.6L986.1,400.1L979.3,401.5L972.4,402.9L965.5,404.3L958.6,405.6L951.7,406.9L944.7,408.2L937.8,409.4L932.6,410.3L927.4,411.2L922.2,412.0L920.8,403.0L919.3,393.9L917.9,385.1L916.6,376.3L915.2,367.5Z" fill="#e2aa1e"/>
<path d="M926.2,365.3L925.3,360.0L930.1,354.8L934.8,349.6L935.6,345.4L932.7,341.9L932.9,338.4L939.8,336.2L946.7,333.8L954.0,333.4L961.3,332.8L965.8,329.7L970.3,326.5L970.2,318.4L967.6,312.9L973.7,307.5L978.3,301.5L982.8,295.4L986.5,292.5L992.6,291.0L998.8,289.5L1005.0,288.0L1006.2,292.9L1007.3,297.8L1008.9,307.6L1012.1,315.0L1014.4,323.1L1016.8,331.3L1016.6,338.5L1016.4,345.7L1018.5,353.9L1020.6,362.1L1019.0,366.6L1016.3,371.3L1015.1,367.5L1008.6,365.3L1002.1,363.1L996.0,359.6L990.0,352.8L983.0,354.3L975.9,355.8L968.8,357.3L961.7,358.7L954.6,360.1L947.5,361.4L940.4,362.8L933.3,364.0Z" fill="#d4fe1e"/>
<path d="M1015.3,375.2L1019.2,374.5L1023.0,373.8L1029.8,369.6L1036.4,365.4L1040.6,362.1L1044.7,358.8L1040.9,360.4L1037.2,362.1L1032.9,363.7L1028.7,365.2L1023.8,367.5L1019.0,369.6L1015.8,372.5Z" fill="#d4fe1e"/>
<path d="M1015.1,367.5L1008.6,365.3L1002.1,363.1L998.3,373.4L999.6,379.2L1005.7,386.0L1002.1,390.9L998.2,395.9L997.1,400.2L1003.6,404.9L1008.9,411.3L1012.5,402.9L1017.8,391.4L1017.0,381.4L1012.5,378.3L1015.2,373.6Z" fill="#ae0016"/>
<path d="M1016.4,345.7L1022.5,344.4L1028.6,343.0L1034.8,341.6L1040.9,340.2L1042.2,346.9L1043.5,353.7L1039.0,355.5L1034.4,357.2L1027.5,360.4L1023.3,363.5L1019.0,366.6L1020.6,362.1L1018.5,353.9Z" fill="#e2aa1e"/>
<path d="M1040.9,340.2L1046.9,338.6L1047.5,340.9L1051.0,344.1L1053.2,347.7L1049.4,349.7L1043.5,353.7L1042.2,346.9Z" fill="#ae0016"/>
<path d="M1016.4,345.7L1016.6,338.5L1016.8,331.3L1022.4,330.1L1028.0,328.9L1033.6,327.7L1039.1,326.5L1044.6,325.2L1050.5,320.2L1054.7,323.5L1050.9,331.8L1056.7,336.4L1060.6,339.5L1067.9,338.5L1065.7,332.9L1068.9,339.2L1069.0,342.3L1061.8,344.3L1059.7,344.9L1053.2,347.7L1051.0,344.1L1047.5,340.9L1046.9,338.6L1040.9,340.2L1034.8,341.6L1028.6,343.0L1022.5,344.4Z" fill="#ae0016"/>
<path d="M1005.0,288.0L1011.3,286.4L1017.7,284.9L1024.0,283.3L1030.3,281.6L1030.5,287.9L1026.9,297.0L1026.3,303.3L1025.7,309.6L1026.0,315.7L1026.4,321.7L1028.0,328.9L1022.4,330.1L1016.8,331.3L1014.4,323.1L1012.1,315.0L1008.9,307.6L1007.3,297.8L1006.2,292.9Z" fill="#92fe1e"/>
<path d="M1030.3,281.6L1034.6,274.5L1037.2,282.7L1039.9,290.9L1042.5,299.1L1046.8,307.5L1051.2,315.9L1050.5,320.2L1044.6,325.2L1039.1,326.5L1033.6,327.7L1028.0,328.9L1026.4,321.7L1026.0,315.7L1025.7,309.6L1026.3,303.3L1026.9,297.0L1030.5,287.9Z" fill="#d8421a"/>
<path d="M1034.6,274.5L1037.9,271.6L1040.2,265.4L1042.5,259.1L1042.2,251.5L1041.9,243.9L1045.1,235.4L1048.2,226.8L1053.3,226.9L1058.5,226.9L1062.1,224.8L1068.9,228.5L1071.1,235.5L1073.3,242.5L1075.5,249.5L1081.9,254.8L1087.0,260.5L1092.1,266.1L1087.0,273.9L1082.4,278.4L1077.8,282.9L1074.0,285.1L1070.2,287.2L1065.7,292.6L1061.3,298.0L1055.4,303.8L1053.3,309.8L1051.2,315.9L1046.8,307.5L1042.5,299.1L1039.9,290.9L1037.2,282.7Z" fill="#e2e21e"/>
</g>
<path d="M333.8,592.5L350.0,595.0L367.5,598.8L373.8,607.5L375.5,620.0L377.5,635.0L379.5,648.0L381.2,657.5L390.0,660.0L405.0,662.5L417.5,672.5L430.0,682.5L427.5,687.5L415.0,685.0L407.5,676.0L390.0,666.0L377.5,665.0L365.0,665.0L352.5,665.0L347.5,675.0L340.0,681.0L330.0,688.8L315.0,697.5L320.0,690.0L325.0,683.0L318.0,678.0L315.0,675.0L302.5,666.0L297.5,660.0L302.5,650.0L315.0,638.8L301.2,627.5L312.5,620.0L307.5,608.8L317.5,601.2Z" fill="#b2fe1e" stroke="#4a5a10" stroke-width="1.2" stroke-linejoin="round"/>
<path d="M392.0,661.0L405.0,662.5L417.5,672.5L430.0,682.5L427.5,687.5L415.0,685.0L407.5,676.0L392.0,667.0Z" fill="#a6c81e" stroke="#4a5a10" stroke-width="1" stroke-linejoin="round"/>
<path d="M315,697.5 L302,701.5 L290,705 L277,708 L265,710 L252,709.5 L240,707.5 L231,703 L223.75,697.5" fill="none" stroke="#5a6a28" stroke-width="2.6" stroke-linecap="round"/>
<path d="M285,635 L295,642.5" stroke="#4a5030" stroke-width="3" stroke-linecap="round"/>
<circle cx="277.5" cy="657.5" r="1.6" fill="#6a6a6a"/>
<circle cx="282.5" cy="682.5" r="1.6" fill="#6a6a6a"/>
<path d="M444,652 L450,649 L455,648 M458,646 L461,645" fill="none" stroke="#5a6a30" stroke-width="2.2" stroke-linecap="round"/>
<path d="M483,657 L487,660 M491,662 L496,664 L502,665 L510,668 L518,671" fill="none" stroke="#5a6a30" stroke-width="2.6" stroke-linecap="round"/>
<path d="M521.0,683.0L530.0,683.0L538.0,688.0L546.0,694.0L540.0,699.0L531.0,705.0L524.0,704.0L520.0,695.0Z" fill="#c4fe2c" stroke="#6a8020" stroke-width="1.5" stroke-linejoin="round"/>
<path d="M694.6,727.7L725.0,726.0L755.4,726.6L765.0,729.0L772.5,732.0L776.8,742.6L770.4,753.3L758.0,757.0L744.7,759.7L728.0,760.0L712.7,760.7L695.6,759.7L693.5,750.0L693.5,740.5Z" fill="#d4fe1e" stroke="#3a3a10" stroke-width="1" stroke-linejoin="round"/>
<path d="M784.0,742.0L790.0,741.0L789.0,745.0L783.0,746.0Z" fill="#d4fe1e" stroke="#3a3a10" stroke-width="1" stroke-linejoin="round"/>
<path d="M788.0,730.0L791.0,730.0L791.0,733.0L788.0,733.0Z" fill="#d4fe1e" stroke="#3a3a10" stroke-width="1" stroke-linejoin="round"/>
<path d="M845.5,715.9L852.0,711.0L862.2,706.3L873.0,707.0L883.5,709.5L892.0,707.0L900.6,705.2L912.0,703.0L924.1,702.0L926.2,712.7L915.0,717.0L904.9,721.2L892.1,723.4L883.0,718.0L875.0,714.8L862.2,720.2L847.2,718.0Z" fill="#d8f22a" stroke="#3a3a10" stroke-width="1" stroke-linejoin="round"/>
<path d="M825.9,744.7L840.8,736.2L862.2,729.8L883.5,726.6L902.8,727.7L896.4,734.0L872.9,740.5L857.9,749.0L840.8,755.4L825.9,761.8Z" fill="#d8f22a" stroke="#3a3a10" stroke-width="1" stroke-linejoin="round"/>
<path d="M1087.4,358.8L1091.0,361.0L1094.5,365.8L1098.0,372.9L1102.0,375.0L1105.0,378.0L1106.8,385.2L1103.3,387.0L1098.0,390.5L1096.2,397.5L1091.0,401.0L1083.9,401.0L1078.6,402.8L1075.1,408.0L1071.6,415.0L1069.8,413.3L1070.7,406.3L1075.1,399.3L1080.4,395.8L1085.7,392.2L1087.4,385.2L1083.9,378.2L1084.8,369.4L1083.9,362.3Z" fill="#860018" stroke="#3a0008" stroke-width="1.2" stroke-linejoin="round"/>
<path d="M1077.0,463.0L1106.0,474.0L1101.5,499.6L1089.0,486.0L1076.0,477.0Z" fill="#b00018" stroke="#3a3a10" stroke-width="1" stroke-linejoin="round"/>
<path d="M186.0,458.0L195.0,453.0L207.0,454.0L214.0,458.0L210.0,465.0L200.0,471.0L192.0,471.0L185.0,478.0L172.0,484.0L161.0,488.0L160.0,485.0L170.0,479.0L180.0,472.0L184.0,465.0Z" fill="#28e61e" stroke="#3a3a10" stroke-width="1" stroke-linejoin="round"/>
<rect x="153" y="495" width="6" height="3" fill="#555"/>
<path d="M163,520 L175,512" stroke="#4a6048" stroke-width="3.5" stroke-linecap="round"/>
<rect x="1364.5" y="254.5" width="48" height="30" rx="4" fill="#4c0082" stroke="rgba(0,0,0,0.28)" stroke-width="2"/>
<rect x="1364.5" y="299.2" width="48" height="30" rx="4" fill="#6a0012" stroke="rgba(0,0,0,0.28)" stroke-width="2"/>
<rect x="1364.5" y="343.9" width="48" height="30" rx="4" fill="#8a0014" stroke="rgba(0,0,0,0.28)" stroke-width="2"/>
<rect x="1364.5" y="388.6" width="48" height="30" rx="4" fill="#ae0016" stroke="rgba(0,0,0,0.28)" stroke-width="2"/>
<rect x="1364.5" y="433.3" width="48" height="30" rx="4" fill="#dc4416" stroke="rgba(0,0,0,0.28)" stroke-width="2"/>
<rect x="1364.5" y="478.0" width="48" height="30" rx="4" fill="#e47c1c" stroke="rgba(0,0,0,0.28)" stroke-width="2"/>
<rect x="1364.5" y="522.7" width="48" height="30" rx="4" fill="#e2ac1c" stroke="rgba(0,0,0,0.28)" stroke-width="2"/>
<rect x="1364.5" y="567.4" width="48" height="30" rx="4" fill="#e2e01e" stroke="rgba(0,0,0,0.28)" stroke-width="2"/>
<rect x="1364.5" y="612.1" width="48" height="30" rx="4" fill="#d4fc1e" stroke="rgba(0,0,0,0.28)" stroke-width="2"/>
<rect x="1364.5" y="656.8" width="48" height="30" rx="4" fill="#b4fc1e" stroke="rgba(0,0,0,0.28)" stroke-width="2"/>
<rect x="1364.5" y="701.5" width="48" height="30" rx="4" fill="#92fc1e" stroke="rgba(0,0,0,0.28)" stroke-width="2"/>
<rect x="1364.5" y="746.2" width="48" height="30" rx="4" fill="#74fa22" stroke="rgba(0,0,0,0.28)" stroke-width="2"/>
<rect x="1364.5" y="790.9" width="48" height="30" rx="4" fill="#22ee1e" stroke="rgba(0,0,0,0.28)" stroke-width="2"/>
<rect x="1364" y="835.1" width="49" height="31" rx="4" fill="#f4f4f4" stroke="#c8c8c8" stroke-width="1.5"/>
<path d="M1421,269.5 H1452 V358.9 H1421" fill="none" stroke="#a6a6a6" stroke-width="2.6"/>
<path d="M1421,403.6 H1452 V493.0 H1421" fill="none" stroke="#a6a6a6" stroke-width="2.6"/>
<path d="M1421,537.7 H1452 V582.4 H1421" fill="none" stroke="#a6a6a6" stroke-width="2.6"/>
<path d="M1421,627.1 H1452 V671.8 H1421" fill="none" stroke="#a6a6a6" stroke-width="2.6"/>
<path d="M1421,716.5 H1452 V805.9 H1421" fill="none" stroke="#a6a6a6" stroke-width="2.6"/>
<text x="1459" y="320.2" font-size="19" fill="#6a6a6a" textLength="83" lengthAdjust="spacingAndGlyphs">Very High</text>
<text x="1459" y="454.3" font-size="19" fill="#6a6a6a" textLength="40" lengthAdjust="spacingAndGlyphs">High</text>
<text x="1459" y="566.0" font-size="19" fill="#6a6a6a" textLength="82" lengthAdjust="spacingAndGlyphs">Moderate</text>
<text x="1459" y="655.5" font-size="19" fill="#6a6a6a" textLength="34" lengthAdjust="spacingAndGlyphs">Low</text>
<text x="1459" y="767.2" font-size="19" fill="#6a6a6a" textLength="65" lengthAdjust="spacingAndGlyphs">Minimal</text>
<text x="1461" y="856.6" font-size="19" fill="#6a6a6a" textLength="137" lengthAdjust="spacingAndGlyphs">Insufficient Data</text>
<text x="1351" y="232.5" font-size="23" fill="#484848" stroke="#484848" stroke-width="0.6" textLength="179" lengthAdjust="spacingAndGlyphs">ILI Activity Level</text>
<text x="1456" y="885" font-size="17" fill="#606060">a state. It</text>
<text x="1452" y="916" font-size="17" fill="#606060">cause the</text>
<text x="288" y="980" font-size="18" fill="#555" textLength="1202" lengthAdjust="spacingAndGlyphs" filter="url(#b2)">*Data collected in ILINet may disproportionately represent certain populations within a state, and therefore may not accurately depict the full</text>
<text x="288" y="1009" font-size="18" fill="#555" textLength="392" lengthAdjust="spacingAndGlyphs" filter="url(#b2)">picture of influenza activity for the whole state.</text>
<text x="288" y="1039" font-size="18" fill="#555" textLength="1212" lengthAdjust="spacingAndGlyphs" filter="url(#b2)">*Data displayed in this map are based on data collected in ILINet, whereas the State and Territorial flu activity map are based on reports from</text>
<text x="288" y="1070" font-size="18" fill="#555" textLength="1069" lengthAdjust="spacingAndGlyphs" filter="url(#b2)">state and territorial epidemiologists. The data presented in this map is preliminary and may change as more data is received.</text>
</g>
</g>
</svg>
<svg id="lt" width="1920" height="1080" viewBox="0 0 1920 1080" style="position:absolute;left:0;top:0">
<defs><filter id="lb" x="-2%" y="-20%" width="104%" height="140%"><feGaussianBlur stdDeviation="0.6"/></filter></defs>
<g filter="url(#lb)">
<rect x="112" y="800" width="684" height="1.6" fill="#d8d8d8" opacity="0.7"/>
<rect x="112" y="801.5" width="683.5" height="42" fill="#ececec"/>
<rect x="112" y="801.8" width="683.5" height="2.2" fill="#fbfbfb"/>
<rect x="112" y="841.8" width="683.5" height="1.8" fill="#f6f6f6"/>
<rect x="112" y="845.5" width="1341.5" height="73.8" fill="#111986"/>
<rect x="112" y="845.5" width="14.5" height="73.8" fill="#d8a01e"/>
<rect x="112" y="919.3" width="1341.5" height="1.5" fill="#c8c8f0" opacity="0.6"/>
<rect x="112" y="927" width="1227" height="42" fill="#ebebeb"/>
<rect x="112" y="927" width="1227" height="2" fill="#fafafa"/>
<rect x="112" y="967" width="1227" height="2" fill="#f6f6f6"/>
<text x="158.87" y="837.8" font-size="38.5" font-weight="bold" fill="#141414" textLength="100.34" lengthAdjust="spacingAndGlyphs">NEW</text>
<text x="268.55" y="837.8" font-size="38.5" font-weight="bold" fill="#141414" textLength="295.72" lengthAdjust="spacingAndGlyphs">INFORMATION</text>
<text x="156.60" y="907" font-size="71" font-weight="bold" fill="#ececec" textLength="317.82" lengthAdjust="spacingAndGlyphs" stroke="#ececec" stroke-width="0.8">TENNESSEE</text>
<text x="487.63" y="907" font-size="71" font-weight="bold" fill="#ececec" textLength="107.27" lengthAdjust="spacingAndGlyphs" stroke="#ececec" stroke-width="0.8">HAS</text>
<text x="613.36" y="907" font-size="71" font-weight="bold" fill="#ececec" textLength="235.45" lengthAdjust="spacingAndGlyphs" stroke="#ececec" stroke-width="0.8">HIGHEST</text>
<text x="862.93" y="907" font-size="71" font-weight="bold" fill="#ececec" textLength="211.10" lengthAdjust="spacingAndGlyphs" stroke="#ececec" stroke-width="0.8">ILLNESS</text>
<text x="1090.09" y="907" font-size="71" font-weight="bold" fill="#ececec" textLength="141.37" lengthAdjust="spacingAndGlyphs" stroke="#ececec" stroke-width="0.8">RATE</text>
<text x="1244.36" y="907" font-size="71" font-weight="bold" fill="#ececec" textLength="57.29" lengthAdjust="spacingAndGlyphs" stroke="#ececec" stroke-width="0.8">IN</text>
<text x="1315.63" y="907" font-size="71" font-weight="bold" fill="#ececec" textLength="97.78" lengthAdjust="spacingAndGlyphs" stroke="#ececec" stroke-width="0.8">U.S.</text>
<text x="158.98" y="961.2" font-size="37.4" font-weight="normal" fill="#141414" textLength="79.44" lengthAdjust="spacingAndGlyphs" stroke="#141414" stroke-width="0.7">THE</text>
<text x="249.55" y="961.2" font-size="37.4" font-weight="normal" fill="#141414" textLength="161.70" lengthAdjust="spacingAndGlyphs" stroke="#141414" stroke-width="0.7">CENTER</text>
<text x="423.21" y="961.2" font-size="37.4" font-weight="normal" fill="#141414" textLength="82.14" lengthAdjust="spacingAndGlyphs" stroke="#141414" stroke-width="0.7">FOR</text>
<text x="519.52" y="961.2" font-size="37.4" font-weight="normal" fill="#141414" textLength="171.31" lengthAdjust="spacingAndGlyphs" stroke="#141414" stroke-width="0.7">DISEASE</text>
<text x="701.98" y="961.2" font-size="37.4" font-weight="normal" fill="#141414" textLength="196.03" lengthAdjust="spacingAndGlyphs" stroke="#141414" stroke-width="0.7">CONTROL</text>
<text x="908.39" y="961.2" font-size="37.4" font-weight="normal" fill="#141414" textLength="92.65" lengthAdjust="spacingAndGlyphs" stroke="#141414" stroke-width="0.7">AND</text>
<text x="1012.12" y="961.2" font-size="37.4" font-weight="normal" fill="#141414" textLength="265.15" lengthAdjust="spacingAndGlyphs" stroke="#141414" stroke-width="0.7">PREVENTION</text>
</g>
</svg>
</body>
</html>
